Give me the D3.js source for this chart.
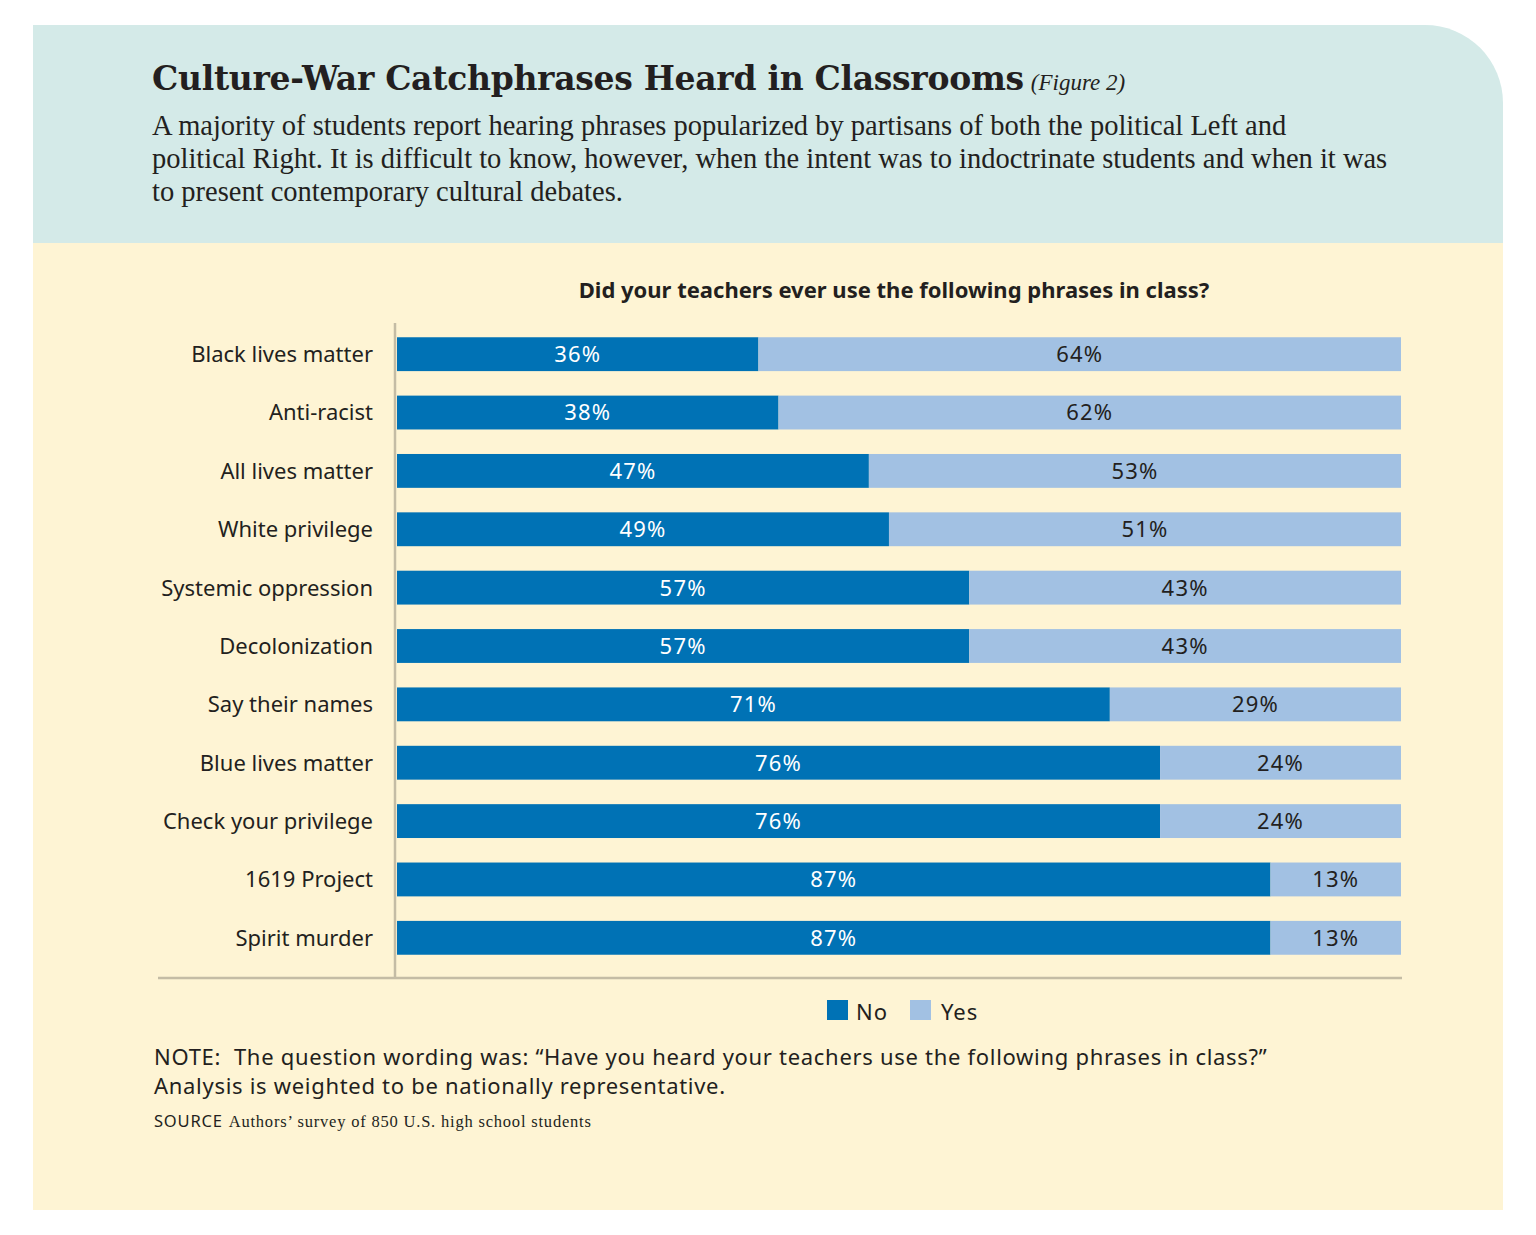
<!DOCTYPE html>
<html>
<head>
<meta charset="utf-8">
<script src="https://cdn.jsdelivr.net/npm/d3@7"></script>
<style>
  body { margin: 0; background: #fff; }
  svg { display: block; }
</style>
</head>
<body>
<div id="chart"></div>
<script>
// Data
const phrases = ['Black lives matter', 'Anti-racist', 'All lives matter', 'White privilege',
    'Systemic oppression', 'Decolonization', 'Say their names', 'Blue lives matter',
    'Check your privilege', '1619 Project', 'Spirit murder'];
const noValues = [36, 38, 47, 49, 57, 57, 71, 76, 76, 87, 87];
const yesValues = [64, 62, 53, 51, 43, 43, 29, 24, 24, 13, 13];
const seriesNames = ['No', 'Yes'];

const width = 1536;
const height = 1235;

const colors = { No: '#0072b5', Yes: '#a2c1e3' };
const sans = '"Noto Sans", sans-serif';
const serif = '"Liberation Serif", serif';

const svg = d3.select('#chart')
    .append('svg')
    .attr('width', width)
    .attr('height', height);

// Panel backgrounds
const panelX = 33, panelY = 25, panelW = 1470, panelBottom = 1210, headerBottom = 243, corner = 78;

svg.append('path')
    .attr('d', `M${panelX},${panelY} H${panelX + panelW - corner} A${corner},${corner} 0 0 1 ${panelX + panelW},${panelY + corner} V${headerBottom} H${panelX} Z`)
    .attr('fill', '#d4eae8');

svg.append('rect')
    .attr('x', panelX)
    .attr('y', headerBottom)
    .attr('width', panelW)
    .attr('height', panelBottom - headerBottom)
    .attr('fill', '#fef4d4');

// Title
const title = svg.append('text')
    .attr('x', 152)
    .attr('y', 90)
    .style('fill', '#231f20');
title.append('tspan')
    .style('font-family', '"DejaVu Serif", serif')
    .style('font-size', '33px')
    .style('font-weight', 'bold')
    .style('letter-spacing', '-0.3px')
    .text('Culture-War Catchphrases Heard in Classrooms');
title.append('tspan')
    .attr('dx', 7)
    .style('font-family', serif)
    .style('font-size', '23px')
    .style('font-style', 'italic')
    .text('(Figure 2)');

const subtitleLines = [
    'A majority of students report hearing phrases popularized by partisans of both the political Left and',
    'political Right. It is difficult to know, however, when the intent was to indoctrinate students and when it was',
    'to present contemporary cultural debates.'
];
svg.append('g')
    .selectAll('text')
    .data(subtitleLines)
    .enter()
    .append('text')
    .attr('x', 152)
    .attr('y', (d, i) => 135 + i * 33)
    .style('font-family', serif)
    .style('font-size', '28.5px')
    .style('fill', '#231f20')
    .text(d => d);

// Chart title
svg.append('text')
    .attr('x', 894)
    .attr('y', 298)
    .attr('text-anchor', 'middle')
    .style('font-family', sans)
    .style('font-size', '22px')
    .style('font-weight', 'bold')
    .style('fill', '#231f20')
    .text('Did your teachers ever use the following phrases in class?');

// Scales
const x = d3.scaleLinear()
    .domain([0, 100])
    .range([397, 1401]);

const y = d3.scaleBand()
    .domain(phrases)
    .range([325, 967])
    .paddingInner(0.42)
    .paddingOuter(0.21);

const rows = phrases.map((p, i) => ({ phrase: p, No: noValues[i], Yes: yesValues[i] }));
const stacked = d3.stack().keys(seriesNames)(rows);

const layers = svg.append('g')
    .selectAll('g')
    .data(stacked)
    .enter()
    .append('g')
    .attr('fill', d => colors[d.key]);

layers.selectAll('rect')
    .data(d => d)
    .enter()
    .append('rect')
    .attr('x', d => x(d[0]))
    .attr('y', d => y(d.data.phrase))
    .attr('width', d => x(d[1]) - x(d[0]))
    .attr('height', y.bandwidth());

// Value labels
layers.each(function(layer) {
    d3.select(this).selectAll('text')
        .data(layer)
        .enter()
        .append('text')
        .attr('x', d => (x(d[0]) + x(d[1])) / 2)
        .attr('y', d => y(d.data.phrase) + y.bandwidth() / 2)
        .attr('dy', '0.36em')
        .attr('text-anchor', 'middle')
        .style('font-family', sans)
        .style('font-size', '22px')
        .style('letter-spacing', '1.2px')
        .style('fill', layer.key === 'No' ? '#ffffff' : '#231f20')
        .text(d => `${d.data[layer.key]}%`);
});

// Category labels
svg.append('g')
    .selectAll('text')
    .data(phrases)
    .enter()
    .append('text')
    .attr('x', 373)
    .attr('y', d => y(d) + y.bandwidth() / 2)
    .attr('dy', '0.36em')
    .attr('text-anchor', 'end')
    .style('font-family', sans)
    .style('font-size', '22px')
    .style('fill', '#231f20')
    .text(d => d);

// Axis lines
svg.append('line')
    .attr('x1', 395).attr('x2', 395)
    .attr('y1', 323).attr('y2', 979)
    .attr('stroke', '#c4bca5')
    .attr('stroke-width', 2.5);

svg.append('line')
    .attr('x1', 158).attr('x2', 1402)
    .attr('y1', 978).attr('y2', 978)
    .attr('stroke', '#c4bca5')
    .attr('stroke-width', 2.5);

// Legend
const legend = svg.append('g')
    .selectAll('g')
    .data(seriesNames)
    .enter()
    .append('g')
    .attr('transform', (d, i) => `translate(${i === 0 ? 827 : 910},1000)`);

legend.append('rect')
    .attr('width', 21)
    .attr('height', 20)
    .attr('fill', d => colors[d]);

legend.append('text')
    .attr('x', d => d === 'No' ? 29 : 31)
    .attr('y', 20)
    .style('font-family', sans)
    .style('font-size', '22px')
    .style('letter-spacing', '1px')
    .style('fill', '#231f20')
    .text(d => d);

// Notes
const noteLines = [
    'NOTE:\u00a0\u00a0The question wording was: \u201cHave you heard your teachers use the following phrases in class?\u201d',
    'Analysis is weighted to be nationally representative.'
];
svg.append('g')
    .selectAll('text')
    .data(noteLines)
    .enter()
    .append('text')
    .attr('x', 154)
    .attr('y', (d, i) => 1065 + i * 29)
    .style('font-family', sans)
    .style('font-size', '22px')
    .style('letter-spacing', '0.7px')
    .style('fill', '#231f20')
    .text(d => d);

const source = svg.append('text')
    .attr('x', 154)
    .attr('y', 1127)
    .style('fill', '#231f20');
source.append('tspan')
    .style('font-family', sans)
    .style('font-size', '16.5px')
    .style('letter-spacing', '0.8px')
    .text('SOURCE');
source.append('tspan')
    .attr('dx', 6)
    .style('font-family', serif)
    .style('font-size', '16.5px')
    .style('letter-spacing', '0.8px')
    .text('Authors\u2019 survey of 850 U.S. high school students');
</script>
</body>
</html>
